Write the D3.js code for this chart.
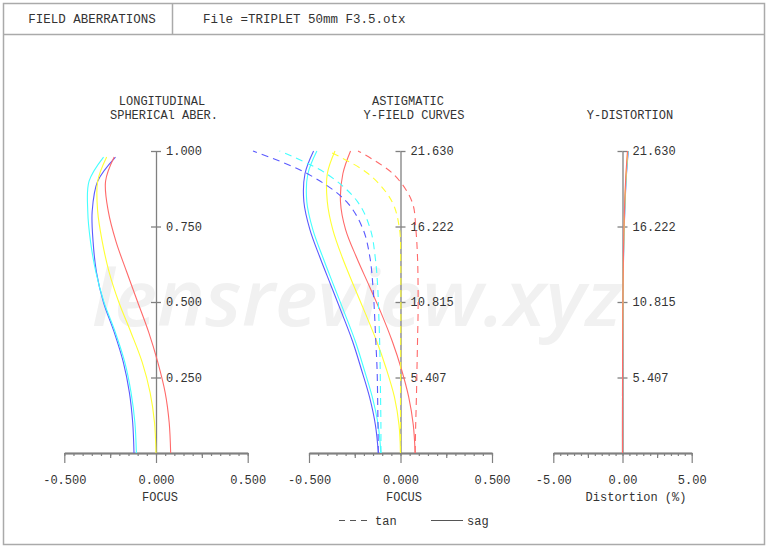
<!DOCTYPE html>
<html><head><meta charset="utf-8">
<script src="https://cdn.jsdelivr.net/npm/d3@7"></script>
<style>
html,body{margin:0;padding:0;background:#fff;}
svg text{font-family:"Liberation Mono","DejaVu Sans Mono",monospace;fill:#333;}
</style></head>
<body><svg id="c" width="768" height="548"></svg>
<script>
// ---------- data ----------
const colorNames = ["blue","cyan","yellow","red"];
const colors = {blue:"#5a5aff",cyan:"#44ffff",yellow:"#ffff33",red:"#ff6a6a"};

// Longitudinal spherical aberration (relative pupil height vs focus, mm)
const lsaPupil = [0,0.1,0.2,0.3,0.4,0.5,0.6,0.7,0.8,0.9,0.98];
const lsaBlue   = [-0.120,-0.127,-0.145,-0.178,-0.228,-0.287,-0.325,-0.343,-0.348,-0.318,-0.221];
const lsaCyan   = [-0.107,-0.115,-0.136,-0.170,-0.222,-0.284,-0.328,-0.357,-0.372,-0.365,-0.286];
const lsaYellow = [0.000,-0.008,-0.032,-0.075,-0.137,-0.203,-0.256,-0.293,-0.318,-0.318,-0.269];
const lsaRed    = [0.080,0.072,0.050,0.010,-0.040,-0.100,-0.160,-0.218,-0.260,-0.275,-0.228];
const lsaTicks  = [0.25,0.5,0.75,1.0];

// Astigmatic field curves (field vs focus, mm)
const field = [0,2,4,6,8,10,12,14,16,18,20,21.63];
const tanBlue   = [-0.121,-0.123,-0.125,-0.128,-0.135,-0.142,-0.151,-0.167,-0.204,-0.295,-0.508,-0.806];
const tanCyan   = [-0.107,-0.107,-0.109,-0.111,-0.114,-0.119,-0.125,-0.138,-0.164,-0.235,-0.404,-0.661];
const tanYellow = [0.000,0.000,0.000,0.001,0.001,0.002,0.002,0.001,-0.005,-0.046,-0.176,-0.396];
const tanRed    = [0.080,0.083,0.087,0.090,0.093,0.096,0.096,0.093,0.084,0.063,-0.041,-0.232];
const sagBlue   = [-0.121,-0.137,-0.169,-0.214,-0.262,-0.320,-0.380,-0.440,-0.495,-0.528,-0.522,-0.475];
const sagCyan   = [-0.107,-0.122,-0.154,-0.199,-0.247,-0.305,-0.365,-0.424,-0.479,-0.512,-0.506,-0.457];
const sagYellow = [0.000,-0.008,-0.033,-0.077,-0.130,-0.192,-0.256,-0.318,-0.370,-0.400,-0.400,-0.358];
const sagRed    = [0.080,0.070,0.045,0.005,-0.045,-0.105,-0.172,-0.240,-0.300,-0.328,-0.315,-0.273];
const fieldTicks = [5.407,10.815,16.222,21.630];

// Distortion (%)
const distBlue   = [0,0,0.002,0.005,0.012,0.025,0.045,0.075,0.12,0.19,0.29,0.42];
const distCyan   = [0,0,0.002,0.005,0.011,0.024,0.043,0.072,0.115,0.18,0.28,0.40];
const distYellow = [0,0,0.002,0.004,0.011,0.022,0.040,0.068,0.11,0.17,0.265,0.38];
const distRed    = [0,0,0.002,0.004,0.010,0.021,0.038,0.064,0.10,0.16,0.25,0.36];

const focusTickLabels = ["-0.500","0.000","0.500"];
const distTickLabels = ["-5.00","0.00","5.00"];

// ---------- drawing ----------
const svg = d3.select("#c");
const AX = "#808080";

// watermark
svg.append("text").attr("x",92).attr("y",326)
  .attr("textLength",530).attr("lengthAdjust","spacingAndGlyphs")
  .style("font-family","'Open Sans',sans-serif").style("font-style","italic").style("font-weight","600")
  .style("font-size","78px").style("fill","#f1f1f1").text("lensreview.xyz");

// frame
svg.append("rect").attr("x",3.5).attr("y",3.5).attr("width",761).attr("height",541)
  .attr("fill","none").attr("stroke","#aaa").attr("stroke-width",1.5);
svg.append("line").attr("x1",3.5).attr("x2",764.5).attr("y1",34.5).attr("y2",34.5).attr("stroke","#aaa").attr("stroke-width",1.5);
svg.append("line").attr("x1",172.5).attr("x2",172.5).attr("y1",3.5).attr("y2",34.5).attr("stroke","#aaa").attr("stroke-width",1.5);
svg.append("text").attr("x",92).attr("y",23).attr("text-anchor","middle").style("font-size","12.5px").text("FIELD ABERRATIONS");
svg.append("text").attr("x",203).attr("y",23).style("font-size","12.5px").text("File =TRIPLET 50mm F3.5.otx");

const fs = "12px";
function txt(x,y,s,anchor){
  svg.append("text").attr("x",x).attr("y",y).attr("text-anchor",anchor||"middle").style("font-size",fs).text(s);
}

const Y0 = 453, Y1 = 151;
const xL = d3.scaleLinear([-0.5,0.5],[64.3,247.7]);
const yL = d3.scaleLinear([0,1],[Y0,Y1]);
const xM = d3.scaleLinear([-0.5,0.5],[309,492]);
const yM = d3.scaleLinear([0,21.63],[Y0,Y1]);
const xR = d3.scaleLinear([-5,5],[553.3,691.7]);
const yR = d3.scaleLinear([0,21.63],[Y0,Y1]);

function bottomAxis(x, step, medium, major, labels, labelVals){
  const [a,b] = x.domain();
  const n = Math.round((b-a)/step);
  const all = d3.range(n+1).map(i=>a+i*step);
  const g = svg.append("g").attr("transform",`translate(0,${Y0})`);
  g.append("g").call(d3.axisBottom(x).tickValues(all).tickSize(3).tickSizeOuter(0).tickFormat(""));
  g.append("g").call(d3.axisBottom(x).tickValues(medium).tickSize(5).tickSizeOuter(0).tickFormat(""));
  g.append("g").call(d3.axisBottom(x).tickValues(major).tickSize(10).tickSizeOuter(0).tickFormat(""));
  g.selectAll("path,line").attr("stroke",AX).attr("stroke-width",1.2);
  g.selectAll(".domain").attr("stroke-width",1.4);
  const lg = svg.append("g").attr("transform",`translate(0,${Y0})`)
    .call(d3.axisBottom(x).tickValues(labelVals).tickSize(0).tickPadding(22).tickFormat((d,i)=>labels[i]));
  lg.select(".domain").remove();
  lg.selectAll("text").style("font-size",fs).style("font-family","'Liberation Mono',monospace").attr("fill","#333");
}
function vertAxis(x0, y, vals, fmt){
  const g = svg.append("g").attr("transform",`translate(${x0},0)`);
  g.call(d3.axisRight(y).tickValues(vals).tickSize(5).tickSizeOuter(0).tickPadding(5).tickFormat(fmt));
  const g2 = svg.append("g").attr("transform",`translate(${x0},0)`);
  g2.call(d3.axisLeft(y).tickValues(vals).tickSize(5).tickSizeOuter(0).tickFormat(""));
  g2.select(".domain").remove();
  [g,g2].forEach(k=>k.selectAll("path,line").attr("stroke",AX).attr("stroke-width",1.3));
  g.selectAll("text").style("font-size",fs).style("font-family","'Liberation Mono',monospace").attr("fill","#333");
}

function drawCurve(xs, ys, x, y, color, dashed){
  const pts = ys.map((v,i)=>[xs[i], v]);
  const line = d3.line().x(d=>x(d[1])).y(d=>y(d[0])).curve(d3.curveCatmullRom.alpha(0.5));
  svg.append("path").attr("d",line(pts)).attr("fill","none").attr("stroke",color)
    .attr("stroke-width",1.1).attr("stroke-dasharray",dashed?"7,5":null);
}

// ----- Left panel -----
txt(162,105,"LONGITUDINAL");
txt(164,119,"SPHERICAl ABER.");
bottomAxis(xL,0.05,[-0.25,0.25],[-0.5,0,0.5],focusTickLabels,[-0.5,0,0.5]);
vertAxis(xL(0), yL, lsaTicks, d=>d3.format(".3f")(d));
txt(160,501,"FOCUS");
const lsa = {blue:lsaBlue,cyan:lsaCyan,yellow:lsaYellow,red:lsaRed};
colorNames.forEach(c=>drawCurve(lsaPupil, lsa[c], xL, yL, colors[c], false));

// ----- Middle panel -----
txt(408,105,"ASTIGMATIC");
txt(414,119,"Y-FIELD CURVES");
bottomAxis(xM,0.05,[-0.25,0.25],[-0.5,0,0.5],focusTickLabels,[-0.5,0,0.5]);
vertAxis(xM(0), yM, fieldTicks, d=>d3.format(".3f")(d));
txt(404,501,"FOCUS");
const tan = {blue:tanBlue,cyan:tanCyan,yellow:tanYellow,red:tanRed};
const sag = {blue:sagBlue,cyan:sagCyan,yellow:sagYellow,red:sagRed};
colorNames.forEach(c=>drawCurve(field, sag[c], xM, yM, colors[c], false));
colorNames.forEach(c=>drawCurve(field, tan[c], xM, yM, colors[c], true));

// ----- Right panel -----
txt(630,119,"Y-DISTORTION");
bottomAxis(xR,0.5,[-2.5,2.5],[-5,0,5],distTickLabels,[-5,0,5]);
vertAxis(xR(0), yR, fieldTicks, d=>d3.format(".3f")(d));
txt(636,501,"Distortion (%)");
const dist = {blue:distBlue,cyan:distCyan,yellow:distYellow,red:distRed};
colorNames.forEach(c=>drawCurve(field, dist[c], xR, yR, colors[c], false));

// ----- Legend -----
svg.append("line").attr("x1",339).attr("x2",367).attr("y1",520.5).attr("y2",520.5)
  .attr("stroke","#555").attr("stroke-dasharray","6,5").attr("stroke-width",1);
txt(375,525,"tan","start");
svg.append("line").attr("x1",431).attr("x2",463).attr("y1",520.5).attr("y2",520.5)
  .attr("stroke","#555").attr("stroke-width",1);
txt(467,525,"sag","start");
</script></body></html>
